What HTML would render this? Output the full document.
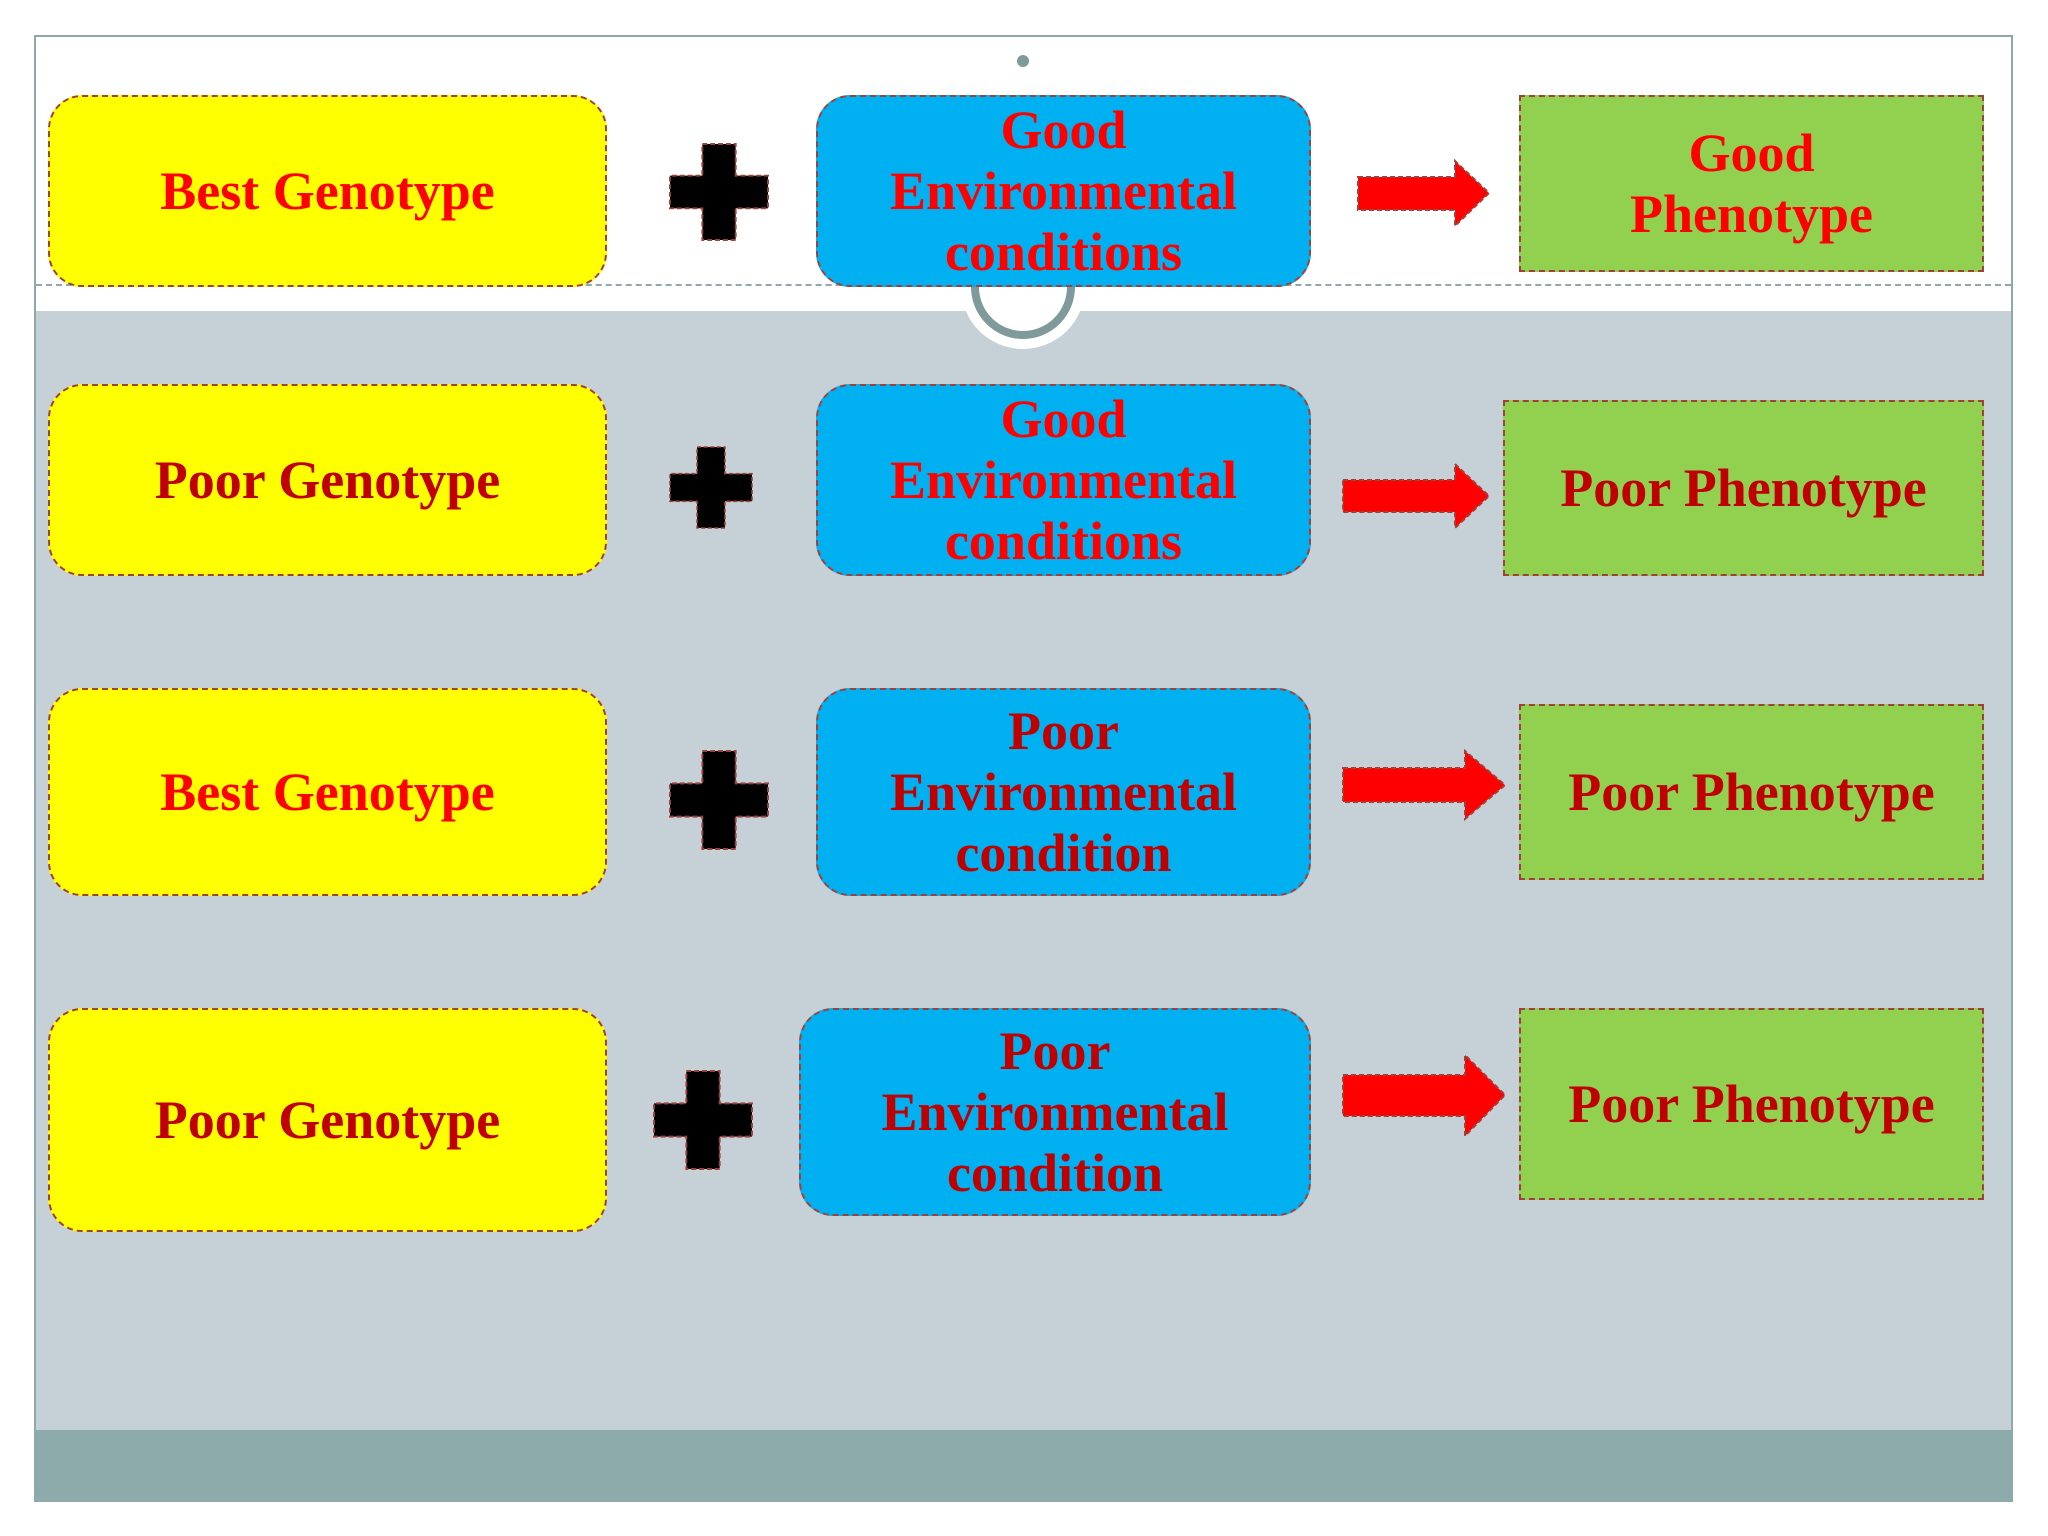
<!DOCTYPE html>
<html><head><meta charset="utf-8"><style>
body{margin:0;width:2048px;height:1536px;background:#fff;position:relative;overflow:hidden;font-family:"Liberation Serif",serif;}
.a{position:absolute;box-sizing:border-box;}
.box{display:flex;align-items:center;justify-content:center;text-align:center;font-weight:bold;font-size:54px;line-height:61px;border:2.5px dashed #a0403a;}
.y{background:#ffff00;border-radius:34px;}
.b{background:#00b0f0;border-radius:34px;}
.g{background:#92d050;}
.r{color:#ff0000}.d{color:#c00000}
</style></head><body>
<div class="a" style="left:34px;top:35px;width:1979px;height:1467px;border:2px solid #8fa8a8;background:#c5d1d6;"></div>
<div class="a" style="left:36px;top:37px;width:1975px;height:274px;background:#fff;"></div>
<div class="a" style="left:36px;top:1430px;width:1975px;height:71px;background:#8eabab;"></div>
<div class="a" style="left:36px;top:284px;width:1975px;border-top:2px dashed #8fa8a8;"></div>
<div class="a" style="left:961px;top:225px;width:124px;height:124px;border-radius:50%;background:#fff;"></div>
<div class="a" style="left:971px;top:235px;width:104px;height:104px;border-radius:50%;border:8px solid #7f9a9a;"></div>
<div class="a" style="left:1017px;top:55px;width:12px;height:12px;border-radius:50%;background:#7f9a9a;"></div>

<svg class="a" style="left:0;top:0" width="2048" height="1536">
<defs>
<g id="plus"><polygon points="33,0 67,0 67,33 100,33 100,67 67,67 67,100 33,100 33,67 0,67 0,33 33,33" fill="#000" stroke="#a0403a" stroke-width="2" stroke-dasharray="5,3"/></g>
</defs>
<use href="#plus" transform="translate(670,144) scale(0.98,0.96)"/>
<use href="#plus" transform="translate(670,447) scale(0.82,0.81)"/>
<use href="#plus" transform="translate(670,751) scale(0.98,0.98)"/>
<use href="#plus" transform="translate(654,1071) scale(0.98,0.98)"/>
<g fill="#ff0000" stroke="#a0403a" stroke-width="2" stroke-dasharray="5,3">
<polygon points="1358,177 1455,177 1455,161 1489,193 1455,226 1455,210 1358,210"/>
<polygon points="1343,480 1455,480 1455,464 1489,496 1455,528 1455,512 1343,512"/>
<polygon points="1343,768 1465,768 1465,751 1505,785 1465,819 1465,802 1343,802"/>
<polygon points="1343,1075 1465,1075 1465,1055 1505,1095 1465,1136 1465,1116 1343,1116"/>
</g>
</svg>

<div class="a box y r" style="left:48px;top:95px;width:559px;height:192px;">Best Genotype</div>
<div class="a box b r" style="left:816px;top:95px;width:495px;height:192px;">Good<br>Environmental<br>conditions</div>
<div class="a box g r" style="left:1519px;top:95px;width:465px;height:177px;">Good<br>Phenotype</div>

<div class="a box y d" style="left:48px;top:384px;width:559px;height:192px;">Poor Genotype</div>
<div class="a box b r" style="left:816px;top:384px;width:495px;height:192px;">Good<br>Environmental<br>conditions</div>
<div class="a box g d" style="left:1503px;top:400px;width:481px;height:176px;">Poor Phenotype</div>

<div class="a box y r" style="left:48px;top:688px;width:559px;height:208px;">Best Genotype</div>
<div class="a box b d" style="left:816px;top:688px;width:495px;height:208px;">Poor<br>Environmental<br>condition</div>
<div class="a box g d" style="left:1519px;top:704px;width:465px;height:176px;">Poor Phenotype</div>

<div class="a box y d" style="left:48px;top:1008px;width:559px;height:224px;">Poor Genotype</div>
<div class="a box b d" style="left:799px;top:1008px;width:512px;height:208px;">Poor<br>Environmental<br>condition</div>
<div class="a box g d" style="left:1519px;top:1008px;width:465px;height:192px;">Poor Phenotype</div>
</body></html>
